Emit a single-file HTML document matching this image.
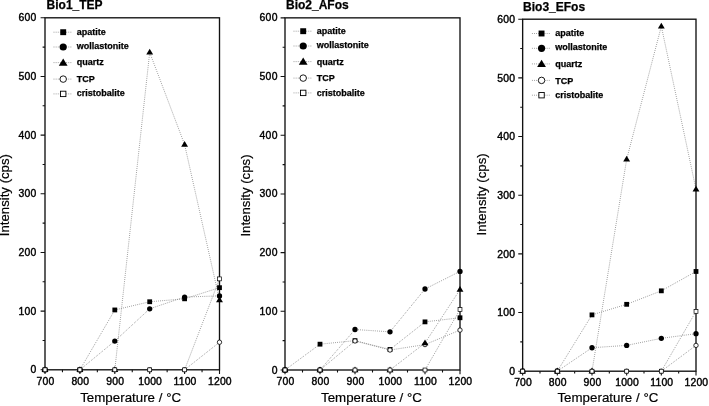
<!DOCTYPE html>
<html><head><meta charset="utf-8"><title>Intensity vs Temperature</title>
<style>html,body{margin:0;padding:0;background:#fff}svg{display:block}</style></head>
<body>
<svg width="709" height="406" viewBox="0 0 709 406" font-family="'Liberation Sans', sans-serif">
<rect width="709" height="406" fill="#fff"/>
<g><text x="46.60" y="9.4" font-size="12" font-weight="bold" stroke="#000" stroke-width="0.25">Bio1_TEP</text>
<polyline points="79.90,369.80 114.80,309.96 149.70,301.75 184.60,298.81 219.50,287.67" stroke="#858585" stroke-width="0.95" stroke-linecap="round" stroke-dasharray="0.01 2.1" fill="none"/>
<polyline points="79.90,369.80 114.80,341.05 149.70,308.79 184.60,297.05 219.50,295.88" stroke="#858585" stroke-width="0.95" stroke-linecap="round" stroke-dasharray="0.01 2.1" fill="none"/>
<polyline points="114.80,369.80 149.70,52.41 184.60,144.52 219.50,299.99" stroke="#858585" stroke-width="0.95" stroke-linecap="round" stroke-dasharray="0.01 2.1" fill="none"/>
<polyline points="184.60,369.80 219.50,342.23" stroke="#858585" stroke-width="0.95" stroke-linecap="round" stroke-dasharray="0.01 2.1" fill="none"/>
<polyline points="184.60,369.80 219.50,278.87" stroke="#858585" stroke-width="0.95" stroke-linecap="round" stroke-dasharray="0.01 2.1" fill="none"/>
<rect x="45.00" y="17.80" width="174.50" height="352.00" fill="none" stroke="#111" stroke-width="1.35"/>
<path d="M45.00,369.80v4.2 M62.45,369.80v2.4 M79.90,369.80v4.2 M97.35,369.80v2.4 M114.80,369.80v4.2 M132.25,369.80v2.4 M149.70,369.80v4.2 M167.15,369.80v2.4 M184.60,369.80v4.2 M202.05,369.80v2.4 M219.50,369.80v4.2 M45.00,369.80h-4.4 M45.00,340.47h-2.4 M45.00,311.13h-4.4 M45.00,281.80h-2.4 M45.00,252.47h-4.4 M45.00,223.13h-2.4 M45.00,193.80h-4.4 M45.00,164.47h-2.4 M45.00,135.13h-4.4 M45.00,105.80h-2.4 M45.00,76.47h-4.4 M45.00,47.13h-2.4 M45.00,17.80h-4.4" stroke="#111" stroke-width="1.1" fill="none"/>
<rect x="42.60" y="367.40" width="4.8" height="4.8" fill="#000"/>
<rect x="77.50" y="367.40" width="4.8" height="4.8" fill="#000"/>
<rect x="112.40" y="307.56" width="4.8" height="4.8" fill="#000"/>
<rect x="147.30" y="299.35" width="4.8" height="4.8" fill="#000"/>
<rect x="182.20" y="296.41" width="4.8" height="4.8" fill="#000"/>
<rect x="217.10" y="285.27" width="4.8" height="4.8" fill="#000"/>
<circle cx="45.00" cy="369.80" r="2.65" fill="#000"/>
<circle cx="79.90" cy="369.80" r="2.65" fill="#000"/>
<circle cx="114.80" cy="341.05" r="2.65" fill="#000"/>
<circle cx="149.70" cy="308.79" r="2.65" fill="#000"/>
<circle cx="184.60" cy="297.05" r="2.65" fill="#000"/>
<circle cx="219.50" cy="295.88" r="2.65" fill="#000"/>
<circle cx="45.00" cy="369.80" r="2.2" fill="#fff" stroke="#000" stroke-width="0.8"/>
<circle cx="79.90" cy="369.80" r="2.2" fill="#fff" stroke="#000" stroke-width="0.8"/>
<circle cx="114.80" cy="369.80" r="2.2" fill="#fff" stroke="#000" stroke-width="0.8"/>
<circle cx="149.70" cy="369.80" r="2.2" fill="#fff" stroke="#000" stroke-width="0.8"/>
<circle cx="184.60" cy="369.80" r="2.2" fill="#fff" stroke="#000" stroke-width="0.8"/>
<circle cx="219.50" cy="342.23" r="2.2" fill="#fff" stroke="#000" stroke-width="0.8"/>
<polygon points="45.00,366.20 41.55,372.00 48.45,372.00" fill="#000"/>
<polygon points="79.90,366.20 76.45,372.00 83.35,372.00" fill="#000"/>
<polygon points="114.80,366.20 111.35,372.00 118.25,372.00" fill="#000"/>
<polygon points="149.70,48.81 146.25,54.61 153.15,54.61" fill="#000"/>
<polygon points="184.60,140.92 181.15,146.72 188.05,146.72" fill="#000"/>
<polygon points="219.50,296.39 216.05,302.19 222.95,302.19" fill="#000"/>
<rect x="43.05" y="367.85" width="3.9" height="3.9" fill="#fff" stroke="#000" stroke-width="0.7"/>
<rect x="77.95" y="367.85" width="3.9" height="3.9" fill="#fff" stroke="#000" stroke-width="0.7"/>
<rect x="112.85" y="367.85" width="3.9" height="3.9" fill="#fff" stroke="#000" stroke-width="0.7"/>
<rect x="147.75" y="367.85" width="3.9" height="3.9" fill="#fff" stroke="#000" stroke-width="0.7"/>
<rect x="182.65" y="367.85" width="3.9" height="3.9" fill="#fff" stroke="#000" stroke-width="0.7"/>
<rect x="217.55" y="276.92" width="3.9" height="3.9" fill="#fff" stroke="#000" stroke-width="0.7"/>
<text x="45.45" y="384.85" font-size="10.4" letter-spacing="0.15" text-anchor="middle" stroke="#000" stroke-width="0.4">700</text>
<text x="80.35" y="384.85" font-size="10.4" letter-spacing="0.15" text-anchor="middle" stroke="#000" stroke-width="0.4">800</text>
<text x="115.25" y="384.85" font-size="10.4" letter-spacing="0.15" text-anchor="middle" stroke="#000" stroke-width="0.4">900</text>
<text x="150.15" y="384.85" font-size="10.4" letter-spacing="0.15" text-anchor="middle" stroke="#000" stroke-width="0.4">1000</text>
<text x="185.05" y="384.85" font-size="10.4" letter-spacing="0.15" text-anchor="middle" stroke="#000" stroke-width="0.4">1100</text>
<text x="219.95" y="384.85" font-size="10.4" letter-spacing="0.15" text-anchor="middle" stroke="#000" stroke-width="0.4">1200</text>
<text x="36.60" y="373.30" font-size="10.4" letter-spacing="0.25" text-anchor="end" stroke="#000" stroke-width="0.4">0</text>
<text x="36.60" y="314.63" font-size="10.4" letter-spacing="0.25" text-anchor="end" stroke="#000" stroke-width="0.4">100</text>
<text x="36.60" y="255.97" font-size="10.4" letter-spacing="0.25" text-anchor="end" stroke="#000" stroke-width="0.4">200</text>
<text x="36.60" y="197.30" font-size="10.4" letter-spacing="0.25" text-anchor="end" stroke="#000" stroke-width="0.4">300</text>
<text x="36.60" y="138.63" font-size="10.4" letter-spacing="0.25" text-anchor="end" stroke="#000" stroke-width="0.4">400</text>
<text x="36.60" y="79.97" font-size="10.4" letter-spacing="0.25" text-anchor="end" stroke="#000" stroke-width="0.4">500</text>
<text x="36.60" y="21.30" font-size="10.4" letter-spacing="0.25" text-anchor="end" stroke="#000" stroke-width="0.4">600</text>
<text x="80.20" y="401.6" font-size="13.3" textLength="100.9" lengthAdjust="spacing" stroke="#000" stroke-width="0.2">Temperature / °C</text>
<text transform="translate(9.00,195.10) rotate(-90)" font-size="13.2" text-anchor="middle" stroke="#000" stroke-width="0.2">Intensity (cps)</text>
<line x1="54.00" y1="32.20" x2="72.20" y2="32.20" stroke="#858585" stroke-width="0.95" stroke-linecap="round" stroke-dasharray="0.01 2.1" fill="none"/>
<rect x="60.25" y="29.25" width="5.9" height="5.9" fill="#000"/>
<text x="76.80" y="34.60" font-size="9" font-weight="bold" stroke="#000" stroke-width="0.25">apatite</text>
<line x1="54.00" y1="47.00" x2="72.20" y2="47.00" stroke="#858585" stroke-width="0.95" stroke-linecap="round" stroke-dasharray="0.01 2.1" fill="none"/>
<circle cx="63.20" cy="47.00" r="3.6" fill="#000"/>
<text x="76.80" y="48.65" font-size="9" font-weight="bold" stroke="#000" stroke-width="0.25">wollastonite</text>
<line x1="54.00" y1="62.60" x2="72.20" y2="62.60" stroke="#858585" stroke-width="0.95" stroke-linecap="round" stroke-dasharray="0.01 2.1" fill="none"/>
<polygon points="63.20,58.50 58.80,65.70 67.60,65.70" fill="#000"/>
<text x="76.80" y="65.30" font-size="9" font-weight="bold" stroke="#000" stroke-width="0.25">quartz</text>
<line x1="54.00" y1="79.10" x2="72.20" y2="79.10" stroke="#858585" stroke-width="0.95" stroke-linecap="round" stroke-dasharray="0.01 2.1" fill="none"/>
<circle cx="63.20" cy="79.10" r="3.25" fill="#fff" stroke="#000" stroke-width="0.9"/>
<text x="76.80" y="82.00" font-size="9" font-weight="bold" stroke="#000" stroke-width="0.25">TCP</text>
<line x1="54.00" y1="93.90" x2="72.20" y2="93.90" stroke="#858585" stroke-width="0.95" stroke-linecap="round" stroke-dasharray="0.01 2.1" fill="none"/>
<rect x="60.50" y="91.20" width="5.4" height="5.4" fill="#fff" stroke="#000" stroke-width="0.9"/>
<text x="76.80" y="96.40" font-size="9" font-weight="bold" stroke="#000" stroke-width="0.25">cristobalite</text></g>
<g><text x="286.00" y="9.4" font-size="12" font-weight="bold" stroke="#000" stroke-width="0.25">Bio2_AFos</text>
<polyline points="285.00,370.00 320.00,344.18 355.00,340.65 390.00,349.46 425.00,321.87 460.00,317.76" stroke="#858585" stroke-width="0.95" stroke-linecap="round" stroke-dasharray="0.01 2.1" fill="none"/>
<polyline points="320.00,370.00 355.00,329.50 390.00,331.85 425.00,289.01 460.00,271.40" stroke="#858585" stroke-width="0.95" stroke-linecap="round" stroke-dasharray="0.01 2.1" fill="none"/>
<polyline points="390.00,370.00 425.00,343.00 460.00,289.59" stroke="#858585" stroke-width="0.95" stroke-linecap="round" stroke-dasharray="0.01 2.1" fill="none"/>
<polyline points="320.00,370.00 355.00,340.95 390.00,350.04 425.00,344.59 460.00,330.09" stroke="#858585" stroke-width="0.95" stroke-linecap="round" stroke-dasharray="0.01 2.1" fill="none"/>
<polyline points="425.00,370.00 460.00,309.55" stroke="#858585" stroke-width="0.95" stroke-linecap="round" stroke-dasharray="0.01 2.1" fill="none"/>
<rect x="285.00" y="17.85" width="175.00" height="352.15" fill="none" stroke="#111" stroke-width="1.35"/>
<path d="M285.00,370.00v4.2 M302.50,370.00v2.4 M320.00,370.00v4.2 M337.50,370.00v2.4 M355.00,370.00v4.2 M372.50,370.00v2.4 M390.00,370.00v4.2 M407.50,370.00v2.4 M425.00,370.00v4.2 M442.50,370.00v2.4 M460.00,370.00v4.2 M285.00,370.00h-4.4 M285.00,340.65h-2.4 M285.00,311.31h-4.4 M285.00,281.96h-2.4 M285.00,252.62h-4.4 M285.00,223.27h-2.4 M285.00,193.93h-4.4 M285.00,164.58h-2.4 M285.00,135.23h-4.4 M285.00,105.89h-2.4 M285.00,76.54h-4.4 M285.00,47.20h-2.4 M285.00,17.85h-4.4" stroke="#111" stroke-width="1.1" fill="none"/>
<rect x="282.60" y="367.60" width="4.8" height="4.8" fill="#000"/>
<rect x="317.60" y="341.78" width="4.8" height="4.8" fill="#000"/>
<rect x="352.60" y="338.25" width="4.8" height="4.8" fill="#000"/>
<rect x="387.60" y="347.06" width="4.8" height="4.8" fill="#000"/>
<rect x="422.60" y="319.47" width="4.8" height="4.8" fill="#000"/>
<rect x="457.60" y="315.36" width="4.8" height="4.8" fill="#000"/>
<circle cx="285.00" cy="370.00" r="2.65" fill="#000"/>
<circle cx="320.00" cy="370.00" r="2.65" fill="#000"/>
<circle cx="355.00" cy="329.50" r="2.65" fill="#000"/>
<circle cx="390.00" cy="331.85" r="2.65" fill="#000"/>
<circle cx="425.00" cy="289.01" r="2.65" fill="#000"/>
<circle cx="460.00" cy="271.40" r="2.65" fill="#000"/>
<circle cx="285.00" cy="370.00" r="2.2" fill="#fff" stroke="#000" stroke-width="0.8"/>
<circle cx="320.00" cy="370.00" r="2.2" fill="#fff" stroke="#000" stroke-width="0.8"/>
<circle cx="355.00" cy="340.95" r="2.2" fill="#fff" stroke="#000" stroke-width="0.8"/>
<circle cx="390.00" cy="350.04" r="2.2" fill="#fff" stroke="#000" stroke-width="0.8"/>
<circle cx="425.00" cy="344.59" r="2.2" fill="#fff" stroke="#000" stroke-width="0.8"/>
<circle cx="460.00" cy="330.09" r="2.2" fill="#fff" stroke="#000" stroke-width="0.8"/>
<polygon points="285.00,366.40 281.55,372.20 288.45,372.20" fill="#000"/>
<polygon points="320.00,366.40 316.55,372.20 323.45,372.20" fill="#000"/>
<polygon points="355.00,366.40 351.55,372.20 358.45,372.20" fill="#000"/>
<polygon points="390.00,366.40 386.55,372.20 393.45,372.20" fill="#000"/>
<polygon points="425.00,339.40 421.55,345.20 428.45,345.20" fill="#000"/>
<polygon points="460.00,285.99 456.55,291.79 463.45,291.79" fill="#000"/>
<rect x="283.05" y="368.05" width="3.9" height="3.9" fill="#fff" stroke="#000" stroke-width="0.7"/>
<rect x="318.05" y="368.05" width="3.9" height="3.9" fill="#fff" stroke="#000" stroke-width="0.7"/>
<rect x="353.05" y="368.05" width="3.9" height="3.9" fill="#fff" stroke="#000" stroke-width="0.7"/>
<rect x="388.05" y="368.05" width="3.9" height="3.9" fill="#fff" stroke="#000" stroke-width="0.7"/>
<rect x="423.05" y="368.05" width="3.9" height="3.9" fill="#fff" stroke="#000" stroke-width="0.7"/>
<rect x="458.05" y="307.60" width="3.9" height="3.9" fill="#fff" stroke="#000" stroke-width="0.7"/>
<text x="285.45" y="385.05" font-size="10.4" letter-spacing="0.15" text-anchor="middle" stroke="#000" stroke-width="0.4">700</text>
<text x="320.45" y="385.05" font-size="10.4" letter-spacing="0.15" text-anchor="middle" stroke="#000" stroke-width="0.4">800</text>
<text x="355.45" y="385.05" font-size="10.4" letter-spacing="0.15" text-anchor="middle" stroke="#000" stroke-width="0.4">900</text>
<text x="390.45" y="385.05" font-size="10.4" letter-spacing="0.15" text-anchor="middle" stroke="#000" stroke-width="0.4">1000</text>
<text x="425.45" y="385.05" font-size="10.4" letter-spacing="0.15" text-anchor="middle" stroke="#000" stroke-width="0.4">1100</text>
<text x="460.45" y="385.05" font-size="10.4" letter-spacing="0.15" text-anchor="middle" stroke="#000" stroke-width="0.4">1200</text>
<text x="277.70" y="373.50" font-size="10.4" letter-spacing="0.25" text-anchor="end" stroke="#000" stroke-width="0.4">0</text>
<text x="277.70" y="314.81" font-size="10.4" letter-spacing="0.25" text-anchor="end" stroke="#000" stroke-width="0.4">100</text>
<text x="277.70" y="256.12" font-size="10.4" letter-spacing="0.25" text-anchor="end" stroke="#000" stroke-width="0.4">200</text>
<text x="277.70" y="197.43" font-size="10.4" letter-spacing="0.25" text-anchor="end" stroke="#000" stroke-width="0.4">300</text>
<text x="277.70" y="138.73" font-size="10.4" letter-spacing="0.25" text-anchor="end" stroke="#000" stroke-width="0.4">400</text>
<text x="277.70" y="80.04" font-size="10.4" letter-spacing="0.25" text-anchor="end" stroke="#000" stroke-width="0.4">500</text>
<text x="277.70" y="21.35" font-size="10.4" letter-spacing="0.25" text-anchor="end" stroke="#000" stroke-width="0.4">600</text>
<text x="321.00" y="401.6" font-size="13.3" textLength="100.9" lengthAdjust="spacing" stroke="#000" stroke-width="0.2">Temperature / °C</text>
<text transform="translate(250.00,195.50) rotate(-90)" font-size="13.2" text-anchor="middle" stroke="#000" stroke-width="0.2">Intensity (cps)</text>
<line x1="294.00" y1="31.20" x2="312.20" y2="31.20" stroke="#858585" stroke-width="0.95" stroke-linecap="round" stroke-dasharray="0.01 2.1" fill="none"/>
<rect x="300.25" y="28.25" width="5.9" height="5.9" fill="#000"/>
<text x="316.80" y="34.00" font-size="9" font-weight="bold" stroke="#000" stroke-width="0.25">apatite</text>
<line x1="294.00" y1="46.00" x2="312.20" y2="46.00" stroke="#858585" stroke-width="0.95" stroke-linecap="round" stroke-dasharray="0.01 2.1" fill="none"/>
<circle cx="303.20" cy="46.00" r="3.6" fill="#000"/>
<text x="316.80" y="48.05" font-size="9" font-weight="bold" stroke="#000" stroke-width="0.25">wollastonite</text>
<line x1="294.00" y1="61.60" x2="312.20" y2="61.60" stroke="#858585" stroke-width="0.95" stroke-linecap="round" stroke-dasharray="0.01 2.1" fill="none"/>
<polygon points="303.20,57.50 298.80,64.70 307.60,64.70" fill="#000"/>
<text x="316.80" y="64.70" font-size="9" font-weight="bold" stroke="#000" stroke-width="0.25">quartz</text>
<line x1="294.00" y1="78.10" x2="312.20" y2="78.10" stroke="#858585" stroke-width="0.95" stroke-linecap="round" stroke-dasharray="0.01 2.1" fill="none"/>
<circle cx="303.20" cy="78.10" r="3.25" fill="#fff" stroke="#000" stroke-width="0.9"/>
<text x="316.80" y="81.40" font-size="9" font-weight="bold" stroke="#000" stroke-width="0.25">TCP</text>
<line x1="294.00" y1="92.90" x2="312.20" y2="92.90" stroke="#858585" stroke-width="0.95" stroke-linecap="round" stroke-dasharray="0.01 2.1" fill="none"/>
<rect x="300.50" y="90.20" width="5.4" height="5.4" fill="#fff" stroke="#000" stroke-width="0.9"/>
<text x="316.80" y="95.80" font-size="9" font-weight="bold" stroke="#000" stroke-width="0.25">cristobalite</text></g>
<g><text x="523.05" y="10.7" font-size="12" font-weight="bold" stroke="#000" stroke-width="0.25">Bio3_EFos</text>
<polyline points="557.32,371.20 591.99,314.88 626.66,304.32 661.33,290.83 696.00,271.47" stroke="#858585" stroke-width="0.95" stroke-linecap="round" stroke-dasharray="0.01 2.1" fill="none"/>
<polyline points="557.32,371.20 591.99,347.73 626.66,345.39 661.33,338.35 696.00,333.65" stroke="#858585" stroke-width="0.95" stroke-linecap="round" stroke-dasharray="0.01 2.1" fill="none"/>
<polyline points="591.99,371.20 626.66,159.41 661.33,26.24 696.00,189.33" stroke="#858585" stroke-width="0.95" stroke-linecap="round" stroke-dasharray="0.01 2.1" fill="none"/>
<polyline points="661.33,371.20 696.00,345.39" stroke="#858585" stroke-width="0.95" stroke-linecap="round" stroke-dasharray="0.01 2.1" fill="none"/>
<polyline points="661.33,371.20 696.00,311.36" stroke="#858585" stroke-width="0.95" stroke-linecap="round" stroke-dasharray="0.01 2.1" fill="none"/>
<rect x="522.65" y="19.20" width="173.35" height="352.00" fill="none" stroke="#111" stroke-width="1.35"/>
<path d="M522.65,371.20v4.2 M539.99,371.20v2.4 M557.32,371.20v4.2 M574.65,371.20v2.4 M591.99,371.20v4.2 M609.33,371.20v2.4 M626.66,371.20v4.2 M644.00,371.20v2.4 M661.33,371.20v4.2 M678.66,371.20v2.4 M696.00,371.20v4.2 M522.65,371.20h-4.4 M522.65,341.87h-2.4 M522.65,312.53h-4.4 M522.65,283.20h-2.4 M522.65,253.87h-4.4 M522.65,224.53h-2.4 M522.65,195.20h-4.4 M522.65,165.87h-2.4 M522.65,136.53h-4.4 M522.65,107.20h-2.4 M522.65,77.87h-4.4 M522.65,48.53h-2.4 M522.65,19.20h-4.4" stroke="#111" stroke-width="1.1" fill="none"/>
<rect x="520.25" y="368.80" width="4.8" height="4.8" fill="#000"/>
<rect x="554.92" y="368.80" width="4.8" height="4.8" fill="#000"/>
<rect x="589.59" y="312.48" width="4.8" height="4.8" fill="#000"/>
<rect x="624.26" y="301.92" width="4.8" height="4.8" fill="#000"/>
<rect x="658.93" y="288.43" width="4.8" height="4.8" fill="#000"/>
<rect x="693.60" y="269.07" width="4.8" height="4.8" fill="#000"/>
<circle cx="522.65" cy="371.20" r="2.65" fill="#000"/>
<circle cx="557.32" cy="371.20" r="2.65" fill="#000"/>
<circle cx="591.99" cy="347.73" r="2.65" fill="#000"/>
<circle cx="626.66" cy="345.39" r="2.65" fill="#000"/>
<circle cx="661.33" cy="338.35" r="2.65" fill="#000"/>
<circle cx="696.00" cy="333.65" r="2.65" fill="#000"/>
<circle cx="522.65" cy="371.20" r="2.2" fill="#fff" stroke="#000" stroke-width="0.8"/>
<circle cx="557.32" cy="371.20" r="2.2" fill="#fff" stroke="#000" stroke-width="0.8"/>
<circle cx="591.99" cy="371.20" r="2.2" fill="#fff" stroke="#000" stroke-width="0.8"/>
<circle cx="626.66" cy="371.20" r="2.2" fill="#fff" stroke="#000" stroke-width="0.8"/>
<circle cx="661.33" cy="371.20" r="2.2" fill="#fff" stroke="#000" stroke-width="0.8"/>
<circle cx="696.00" cy="345.39" r="2.2" fill="#fff" stroke="#000" stroke-width="0.8"/>
<polygon points="522.65,367.60 519.20,373.40 526.10,373.40" fill="#000"/>
<polygon points="557.32,367.60 553.87,373.40 560.77,373.40" fill="#000"/>
<polygon points="591.99,367.60 588.54,373.40 595.44,373.40" fill="#000"/>
<polygon points="626.66,155.81 623.21,161.61 630.11,161.61" fill="#000"/>
<polygon points="661.33,22.64 657.88,28.44 664.78,28.44" fill="#000"/>
<polygon points="696.00,185.73 692.55,191.53 699.45,191.53" fill="#000"/>
<rect x="520.70" y="369.25" width="3.9" height="3.9" fill="#fff" stroke="#000" stroke-width="0.7"/>
<rect x="555.37" y="369.25" width="3.9" height="3.9" fill="#fff" stroke="#000" stroke-width="0.7"/>
<rect x="590.04" y="369.25" width="3.9" height="3.9" fill="#fff" stroke="#000" stroke-width="0.7"/>
<rect x="624.71" y="369.25" width="3.9" height="3.9" fill="#fff" stroke="#000" stroke-width="0.7"/>
<rect x="659.38" y="369.25" width="3.9" height="3.9" fill="#fff" stroke="#000" stroke-width="0.7"/>
<rect x="694.05" y="309.41" width="3.9" height="3.9" fill="#fff" stroke="#000" stroke-width="0.7"/>
<text x="523.10" y="386.25" font-size="10.4" letter-spacing="0.15" text-anchor="middle" stroke="#000" stroke-width="0.4">700</text>
<text x="557.77" y="386.25" font-size="10.4" letter-spacing="0.15" text-anchor="middle" stroke="#000" stroke-width="0.4">800</text>
<text x="592.44" y="386.25" font-size="10.4" letter-spacing="0.15" text-anchor="middle" stroke="#000" stroke-width="0.4">900</text>
<text x="627.11" y="386.25" font-size="10.4" letter-spacing="0.15" text-anchor="middle" stroke="#000" stroke-width="0.4">1000</text>
<text x="661.78" y="386.25" font-size="10.4" letter-spacing="0.15" text-anchor="middle" stroke="#000" stroke-width="0.4">1100</text>
<text x="696.45" y="386.25" font-size="10.4" letter-spacing="0.15" text-anchor="middle" stroke="#000" stroke-width="0.4">1200</text>
<text x="515.25" y="375.10" font-size="10.4" letter-spacing="0.25" text-anchor="end" stroke="#000" stroke-width="0.4">0</text>
<text x="515.25" y="316.43" font-size="10.4" letter-spacing="0.25" text-anchor="end" stroke="#000" stroke-width="0.4">100</text>
<text x="515.25" y="257.77" font-size="10.4" letter-spacing="0.25" text-anchor="end" stroke="#000" stroke-width="0.4">200</text>
<text x="515.25" y="199.10" font-size="10.4" letter-spacing="0.25" text-anchor="end" stroke="#000" stroke-width="0.4">300</text>
<text x="515.25" y="140.43" font-size="10.4" letter-spacing="0.25" text-anchor="end" stroke="#000" stroke-width="0.4">400</text>
<text x="515.25" y="81.77" font-size="10.4" letter-spacing="0.25" text-anchor="end" stroke="#000" stroke-width="0.4">500</text>
<text x="515.25" y="23.10" font-size="10.4" letter-spacing="0.25" text-anchor="end" stroke="#000" stroke-width="0.4">600</text>
<text x="557.45" y="401.6" font-size="13.3" textLength="100.9" lengthAdjust="spacing" stroke="#000" stroke-width="0.2">Temperature / °C</text>
<text transform="translate(485.60,194.40) rotate(-90)" font-size="13.2" text-anchor="middle" stroke="#000" stroke-width="0.2">Intensity (cps)</text>
<line x1="532.35" y1="33.50" x2="550.55" y2="33.50" stroke="#858585" stroke-width="0.95" stroke-linecap="round" stroke-dasharray="0.01 2.1" fill="none"/>
<rect x="538.60" y="30.55" width="5.9" height="5.9" fill="#000"/>
<text x="555.15" y="36.20" font-size="9" font-weight="bold" stroke="#000" stroke-width="0.25">apatite</text>
<line x1="532.35" y1="48.30" x2="550.55" y2="48.30" stroke="#858585" stroke-width="0.95" stroke-linecap="round" stroke-dasharray="0.01 2.1" fill="none"/>
<circle cx="541.55" cy="48.30" r="3.6" fill="#000"/>
<text x="555.15" y="50.25" font-size="9" font-weight="bold" stroke="#000" stroke-width="0.25">wollastonite</text>
<line x1="532.35" y1="63.90" x2="550.55" y2="63.90" stroke="#858585" stroke-width="0.95" stroke-linecap="round" stroke-dasharray="0.01 2.1" fill="none"/>
<polygon points="541.55,59.80 537.15,67.00 545.95,67.00" fill="#000"/>
<text x="555.15" y="66.90" font-size="9" font-weight="bold" stroke="#000" stroke-width="0.25">quartz</text>
<line x1="532.35" y1="80.40" x2="550.55" y2="80.40" stroke="#858585" stroke-width="0.95" stroke-linecap="round" stroke-dasharray="0.01 2.1" fill="none"/>
<circle cx="541.55" cy="80.40" r="3.25" fill="#fff" stroke="#000" stroke-width="0.9"/>
<text x="555.15" y="83.60" font-size="9" font-weight="bold" stroke="#000" stroke-width="0.25">TCP</text>
<line x1="532.35" y1="95.20" x2="550.55" y2="95.20" stroke="#858585" stroke-width="0.95" stroke-linecap="round" stroke-dasharray="0.01 2.1" fill="none"/>
<rect x="538.85" y="92.50" width="5.4" height="5.4" fill="#fff" stroke="#000" stroke-width="0.9"/>
<text x="555.15" y="98.00" font-size="9" font-weight="bold" stroke="#000" stroke-width="0.25">cristobalite</text></g>
</svg>
</body></html>
